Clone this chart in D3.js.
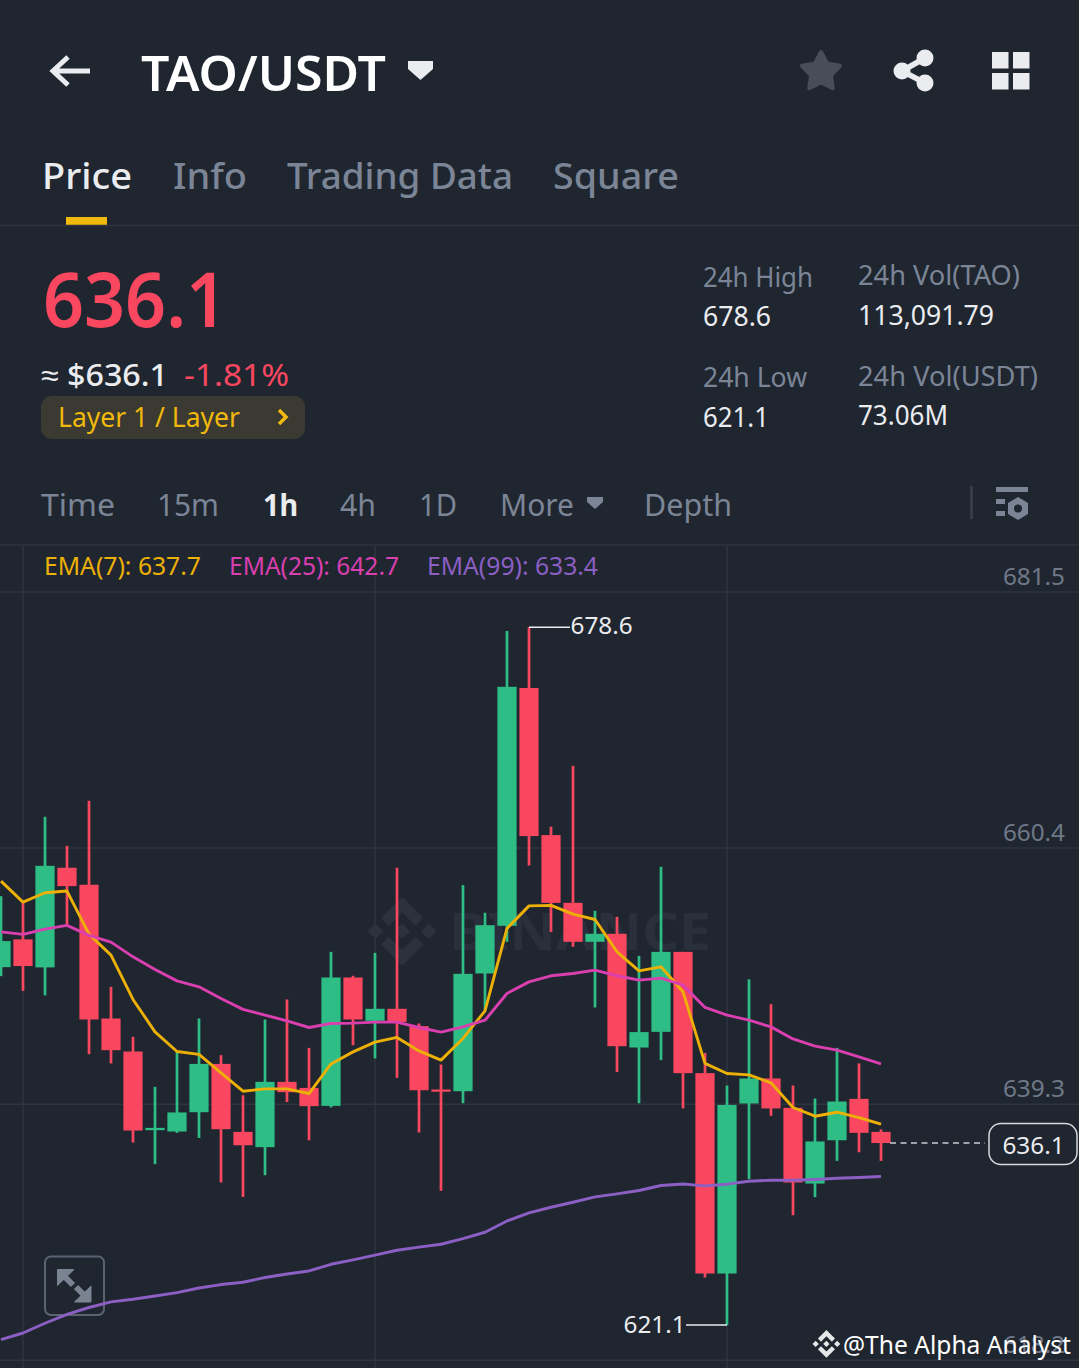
<!DOCTYPE html>
<html>
<head>
<meta charset="utf-8">
<title>TAO/USDT</title>
<script src="https://cdn.jsdelivr.net/npm/d3@7/dist/d3.min.js"></script>
<style>
html,body{margin:0;padding:0;background:#1f2630;}
svg{display:block;}
text{font-family:"Noto Sans",sans-serif;}
</style>
</head>
<body>
<div id="display"></div>
<script>
// Data

var opens = [650.59,652.88,650.57,658.78,657.38,646.36,643.64,637.16,637.05,638.64,642.62,637.02,635.76,641.14,640.64,639.16,649.74,646.17,647.16,645.73,640.51,640.37,650.07,654.00,673.59,661.47,655.89,652.68,653.34,643.97,645.26,651.85,641.86,625.35,639.36,641.42,639.00,632.76,636.33,639.74,637.02];
var highs = [656.44,655.95,662.98,660.59,664.30,648.97,644.85,640.73,643.61,646.36,643.34,640.04,646.28,647.93,643.94,651.85,649.88,651.77,658.78,645.95,642.57,657.35,655.07,678.29,678.60,662.16,667.18,655.23,654.74,651.52,658.86,651.85,643.53,640.84,649.58,647.54,640.84,639.77,643.94,642.66,637.22];
var lows = [649.85,648.64,648.26,654.14,643.42,642.66,636.14,634.36,636.94,636.52,632.85,631.66,633.45,639.47,636.33,639.03,644.16,643.07,641.47,636.97,632.16,639.38,647.05,652.68,658.97,653.48,652.27,647.27,641.96,639.38,642.93,638.95,625.02,621.10,633.12,638.34,630.15,631.64,634.63,635.34,634.63];
var closes = [652.74,650.68,658.94,657.27,646.28,643.75,637.13,637.35,638.62,642.62,637.24,635.92,641.14,640.29,639.14,649.74,646.28,647.16,646.08,640.45,640.35,650.04,654.05,673.69,661.39,655.89,652.68,653.34,644.08,645.24,651.85,641.86,625.35,639.24,641.42,638.95,632.85,636.23,639.52,636.94,636.10];

var ema7 = [657.68,655.95,656.72,656.86,653.31,651.58,647.93,645.26,643.64,643.40,641.88,640.37,640.56,640.56,640.18,642.62,643.61,644.41,644.80,643.69,642.93,644.72,646.99,653.78,655.64,655.68,654.96,654.52,651.85,650.29,650.62,648.56,642.66,641.83,641.72,641.06,639.03,638.31,638.64,638.20,637.65];
var ema25 = [653.50,653.29,653.72,654.03,653.21,652.65,651.44,650.40,649.46,648.97,648.01,647.11,646.64,646.17,645.62,645.95,645.98,646.06,646.06,645.62,645.24,645.67,646.22,648.42,649.38,649.88,650.07,650.35,649.88,649.52,649.69,649.11,647.27,646.64,646.22,645.67,644.68,644.08,643.75,643.20,642.62];
var ema99 = [619.91,620.45,621.25,621.99,622.55,623.01,623.23,623.50,623.78,624.16,624.44,624.63,625.02,625.31,625.56,626.11,626.47,626.86,627.27,627.52,627.76,628.23,628.75,629.68,630.34,630.81,631.22,631.66,631.91,632.19,632.60,632.73,632.57,632.71,632.95,633.04,633.04,633.10,633.20,633.26,633.34];

var priceTicks = [681.5,660.4,639.3,618.2];
var timeTicks = [1,17,33];

var tabs = ["Price","Info","Trading Data","Square"];
var periods = ["Time","15m","1h","4h","1D","More","Depth"];
var emaLabels = ["EMA(7): 637.7","EMA(25): 642.7","EMA(99): 633.4"];

var lastPrice = 636.1, dayHigh = 678.6, dayLow = 621.1;

// Colours

var bg = "#1f2630", gridc = "#2e3440", up = "#2ebd85", down = "#f94760",
	gold = "#f0b90b", c7 = "#ecb006", c25 = "#da3fb0", c99 = "#8c5fc4",
	white = "#eaecef", grey = "#7b8596", axisgrey = "#6f7886";

var W = 1079, H = 1368;

var display = d3.select("#display").append("svg")
	.attr("width",W)
	.attr("height",H)
	.attr("viewBox","0 0 "+W+" "+H);

display.append("rect").attr("width",W).attr("height",H).attr("fill",bg);

// width is the length the text takes in the reference
function label(txt,x,y,size,col,weight,width){
	var t = display.append("text").text(txt)
		.attr("x",x).attr("y",y)
		.style("font-size",size+"px")
		.style("fill",col)
		.style("font-weight",weight || 400);
	if(width) {t.attr("textLength",width).attr("lengthAdjust","spacingAndGlyphs")};
	return t;
}

var LOGO = "M38.73 53.2l24.59-24.58 24.6 24.6 14.3-14.31L63.32 0 24.42 38.9l14.31 14.3zM0 63.31l14.31-14.31 14.31 14.31-14.31 14.3zM38.73 73.41l24.59 24.59 24.6-24.6 14.31 14.29-38.9 38.91-38.91-38.88-.02-.02zM97.9 63.31l14.31-14.31 14.3 14.31-14.31 14.31zM77.83 63.3L63.32 48.78 52.59 59.51l-1.24 1.23-2.54 2.54 14.51 14.5 14.51-14.47z";

// Header

display.append("path").attr("d","M90 71H54M68 57L53 71L68 85")
	.style("fill","none").style("stroke",white).style("stroke-width",5);

label("TAO/USDT",141,91,48,"#ffffff",600,245);
display.append("path").attr("d","M408 61H433V69L420.5 80L408 69Z").style("fill",white);

var starPts = d3.range(10).map(function(i){
	return [i*Math.PI/5, i%2==0 ? 20 : 10.5];
});
display.append("path").attr("d",d3.lineRadial().curve(d3.curveLinearClosed)(starPts))
	.attr("transform","translate(821,72)")
	.style("fill","#474d59").style("stroke","#474d59").style("stroke-width",4).style("stroke-linejoin","round");

display.append("path").attr("d","M925 58L902 71L925 83")
	.style("fill","none").style("stroke",white).style("stroke-width",5.5);
[[925,58],[902,71],[925,83]].forEach(function(p){
	display.append("circle").attr("cx",p[0]).attr("cy",p[1]).attr("r",8.5).style("fill",white);
});

[[992,52],[1013,52],[992,73],[1013,73]].forEach(function(p){
	display.append("rect").attr("x",p[0]).attr("y",p[1]).attr("width",16.5).attr("height",16.5).style("fill",white);
});

// Tabs

var tabX = [42,173,287,553], tabW = [90,74,226,126];
tabs.forEach(function(t,i){
	label(t,tabX[i],189,36,i==0 ? white : grey,500,tabW[i]);
});
display.append("rect").attr("x",66).attr("y",217).attr("width",41).attr("height",8).style("fill",gold);
display.append("line").attr("x1",0).attr("x2",W).attr("y1",225.5).attr("y2",225.5)
	.style("stroke",gridc).style("stroke-width",1.5);

// Price block

label(lastPrice.toFixed(1),43,327,76,down,600,184);
label("≈ $"+lastPrice.toFixed(1),41,386,31,white,500,127);
label("-1.81%",184,386,31,down,400,105);

display.append("rect").attr("x",41).attr("y",396).attr("width",264).attr("height",43).attr("rx",11)
	.style("fill","#3a3932");
label("Layer 1 / Layer",58,427,27,gold,400,182);
display.append("path").attr("d","M279 410L286 417L279 424")
	.style("fill","none").style("stroke",gold).style("stroke-width",3.5);

label("24h High",703,287,27,grey,400,110);
label(dayHigh.toFixed(1),703,326,27,white,400,68);
label("24h Low",703,387,27,grey,400,104);
label(dayLow.toFixed(1),703,427,27,white,400,66);
label("24h Vol(TAO)",858,285,27,grey,400,162);
label("113,091.79",858,325,27,white,400,136);
label("24h Vol(USDT)",858,386,27,grey,400,180);
label("73.06M",858,425,27,white,400,90);

// Period row

var periodX = [41,157,263,340,419,500,644], periodW = [74,62,35,36,38,74,88];
periods.forEach(function(t,i){
	label(t,periodX[i],516,31,t=="1h" ? white : grey,t=="1h" ? 700 : 400,periodW[i]);
});
display.append("path").attr("d","M587 497H603V502L595 509L587 502Z").style("fill",grey);
display.append("line").attr("x1",971.5).attr("x2",971.5).attr("y1",486).attr("y2",519)
	.style("stroke","#3a414d").style("stroke-width",2.5);

var tools = display.append("g").style("fill",grey);
tools.append("rect").attr("x",996).attr("y",487).attr("width",32).attr("height",5);
tools.append("rect").attr("x",996).attr("y",499).attr("width",9).attr("height",5);
tools.append("rect").attr("x",996).attr("y",511).attr("width",9).attr("height",5);
tools.append("path").attr("d","M1018 497L1028 503V514L1018 520L1008 514V503Z");
tools.append("circle").attr("cx",1018).attr("cy",508.5).attr("r",4).style("fill",bg);

// Chart scales

var x = d3.scaleLinear().domain([0,40]).range([1,881]);
var y = d3.scaleLinear().domain([681.5,618.2]).range([592,1360.3]);

var bodyW = 19.2, wickW = 2.7;

display.append("line").attr("x1",0).attr("x2",W).attr("y1",545).attr("y2",545)
	.style("stroke",gridc).style("stroke-width",1.5);

// grid comes from the axes

var yAxis = display.append("g")
	.call(d3.axisRight(y).offset(0).tickValues(priceTicks).tickSize(W).tickFormat(d3.format(".1f")));
yAxis.select(".domain").remove();
yAxis.selectAll("line").style("stroke",gridc).style("stroke-width",1.5);
yAxis.selectAll("text")
	.attr("x",1065).attr("dy",-7.5)
	.style("text-anchor","end")
	.style("font-family",'"Noto Sans",sans-serif')
	.style("font-size","24.3px")
	.style("fill",axisgrey);

var xAxis = display.append("g")
	.attr("transform","translate(0,545)")
	.call(d3.axisBottom(x).offset(0).tickValues(timeTicks).tickSize(H-545).tickFormat(""));
xAxis.select(".domain").remove();
xAxis.selectAll("line").style("stroke",gridc).style("stroke-width",1.5);

// EMA legend

var legendX = [44,229,427], legendW = [157,170,171], legendCol = [c7,c25,c99];
emaLabels.forEach(function(t,i){
	label(t,legendX[i],575,24.5,legendCol[i],400,legendW[i]);
});

// Watermark

display.append("path").attr("d",LOGO)
	.attr("transform","translate(367.7,896.7)scale(0.545)")
	.style("fill","#2c323d");
label("BINANCE",449,950,52,"#2a303b",700,262);

// Expand button

display.append("rect").attr("x",45).attr("y",1256.5).attr("width",59).attr("height",58.5).attr("rx",6)
	.style("fill","none").style("stroke","#5b6372").style("stroke-width",2);
var expand = display.append("g").style("fill","#7a8391").style("stroke","#7a8391");
expand.append("path").attr("d","M57.5 1269.5H74L57.5 1285.5Z");
expand.append("path").attr("d","M91 1286V1302H74.5Z");
expand.append("line").attr("x1",63).attr("y1",1275).attr("x2",73).attr("y2",1285).style("stroke-width",6);
expand.append("line").attr("x1",76).attr("y1",1287).attr("x2",85).attr("y2",1296).style("stroke-width",6);

// Candles

var candle = display.selectAll(".candle").data(d3.range(opens.length)).enter().append("g")
	.attr("class","candle")
	.style("fill",function(i){return closes[i]>=opens[i] ? up : down})
	.style("stroke","none");

candle.append("rect")
	.attr("x",function(i){return x(i)-wickW/2})
	.attr("width",wickW)
	.attr("y",function(i){return y(highs[i])})
	.attr("height",function(i){return y(lows[i])-y(highs[i])});

candle.append("rect")
	.attr("x",function(i){return x(i)-bodyW/2})
	.attr("width",bodyW)
	.attr("y",function(i){return y(Math.max(opens[i],closes[i]))})
	.attr("height",function(i){return Math.max(2.2,Math.abs(y(opens[i])-y(closes[i])))});

// EMA lines

var emaLine = d3.line()
	.x(function(d,i){return x(i)})
	.y(function(d){return y(d)});

[[ema7,c7],[ema25,c25],[ema99,c99]].forEach(function(s){
	display.append("path").datum(s[0]).attr("d",emaLine)
		.style("fill","none").style("stroke",s[1]).style("stroke-width",2.9).style("stroke-linejoin","round");
});

// High / low markers

var iHigh = highs.indexOf(dayHigh), iLow = lows.indexOf(dayLow);

display.append("line")
	.attr("x1",x(iHigh)).attr("x2",570).attr("y1",y(dayHigh)).attr("y2",y(dayHigh))
	.style("stroke",white).style("stroke-width",1.5);
label(dayHigh.toFixed(1),570.5,y(dayHigh)+7,24.3,white);

display.append("line")
	.attr("x1",686).attr("x2",x(iLow)).attr("y1",y(dayLow)).attr("y2",y(dayLow))
	.style("stroke",white).style("stroke-width",1.5);
label(dayLow.toFixed(1),623.5,y(dayLow)+8,24.3,white);

// Last price tag

display.append("line")
	.attr("x1",890).attr("x2",985).attr("y1",y(lastPrice)).attr("y2",y(lastPrice))
	.style("stroke","#c9ccd1").style("stroke-width",1.5).style("stroke-dasharray","6,4.5");
display.append("rect").attr("x",989).attr("y",1123.5).attr("width",88).attr("height",41).attr("rx",12)
	.style("fill",bg).style("stroke","#d5d8dc").style("stroke-width",1.5);
label(lastPrice.toFixed(1),1033.5,1154,24.3,white).style("text-anchor","middle");

// Footer credit

display.append("path").attr("d",LOGO)
	.attr("transform","translate(812.5,1330)scale(0.22)")
	.style("fill","#e4e6e8");
label("@The Alpha Analyst",843,1354,25,"#ffffff",400,228);
</script>
</body>
</html>
